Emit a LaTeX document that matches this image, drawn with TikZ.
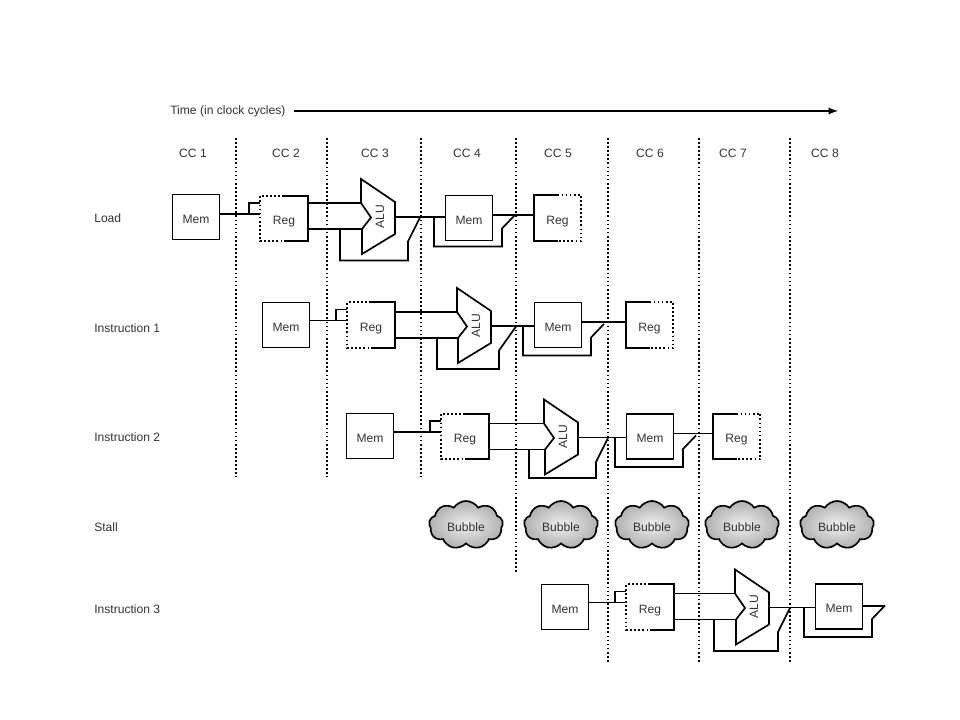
\documentclass[tikz,border=0pt]{standalone}
\usepackage{fontspec}
\setmainfont{Liberation Sans}
\usepackage{tikz}
\usetikzlibrary{arrows, shapes.symbols}

\tikzset{
  label/.style = {text = black!80, font = \fontsize{8.6}{10}\selectfont, inner sep = 0pt},
  box/.style   = {label, minimum width = 1.175cm, minimum height = 1.125cm, text height = 9pt, text depth = 0pt},
  wire/.style  = {line width = 1.2pt},
  tick/.style  = {line width = 1.2pt, dash pattern = on 1.2pt off 1.7pt},
  bubble/.style = {label, draw, line width = 1.2pt, cloud, cloud puffs = 9, cloud puff arc = 115,
    aspect = 1.55, minimum width = 1.85cm, minimum height = 1.2cm, text height = 9pt, text depth = 0pt,
    shade, inner color = gray!12, outer color = gray!62},
}

\begin{document}
\begin{tikzpicture}[>=latex, x = 0.025cm, y = -0.025cm]
    \useasboundingbox (0,0) rectangle (960,720);

    \node[label, anchor = west] (time) at (170,111.5) {Time (in clock cycles)};
    \coordinate (timeend) at (838,111);
    \draw[->, line width = 1.3pt] (294,111) -- (timeend);

    % clock cycle headings and separators
    \foreach \cc/\xc in {1/193, 2/286, 3/375, 4/467, 5/558, 6/650, 7/733, 8/825}
      \node[label] (cc\cc) at (\xc,153) {CC \cc};
    \foreach \xl/\yl in {236/477, 327/477, 421/477, 516/572, 608/662, 699/662, 790/662}
      \draw[tick] (\xl,138) -- (\xl,\yl);

    \foreach \row/\yrow/\name in {load/218.5/Load, one/328.5/Instruction 1, two/437.5/Instruction 2, stall/527.5/Stall, three/609.5/Instruction 3}
      \node[label, anchor = west] (name\row) at (94,\yrow) {\name};

    % one instruction: Mem, Reg, ALU, Mem
    \foreach \row/\xm/\ym/\xr/\yr/\xa/\ya/\xd/\yd/\xf/\xg/\xe/\yb in {
        load/196/217/284/218.5/361/217.5/469/218/340/408/420/260.5,
        one/286/325/371/325/457/326.5/558/325/437/499/516/369,
        two/370/436/465/436.5/544/438/650/436.5/529/596/608/478,
        three/565/607/650/607/735/608/839/606.5/714/778/790/651} {
      \node[box, draw, wire] (mem\row) at (\xm,\ym) {Mem};
      \node[box] (reg\row) at (\xr,\yr) {Reg};
      \draw[tick] (reg\row.north) -- (reg\row.north west) -- (reg\row.south west) -- (reg\row.south);
      \draw[wire] (reg\row.north) -- (reg\row.north east) -- (reg\row.south east) -- (reg\row.south);

      \coordinate (alu\row) at (\xa,\ya);
      \draw[wire] (alu\row) ++(0,-14.5) coordinate (aluin\row) -- ++(0,-24) -- ++(34,23)
        -- ++(0,15) coordinate (aluout\row) -- ++(0,17) -- ++(-33,20) -- ++(0,-25) coordinate (alub\row)
        -- ++(9,-11.5) -- (aluin\row);
      \node[label, rotate = 90] (alutext\row) at (\xa+19,\ya-1) {ALU};

      \node[box, draw, wire] (dmem\row) at (\xd,\yd) {Mem};

      % latch wires
      \coordinate (memout\row) at (\xm,\yr-4.5);
      \coordinate (latch\row) at (\xr-35,\yr-4.5);
      \draw[wire] (mem\row.east |- memout\row) -- (reg\row.west |- memout\row);
      \draw[wire] (latch\row) |- (reg\row.west |- 0,\yr-15.5);
      \draw[wire] (reg\row.east |- aluin\row) -- (aluin\row);
      \draw[wire] (reg\row.east |- alub\row) -- (alub\row);
      \draw[wire] (aluout\row) -- (dmem\row.west |- aluout\row);

      % bypass wires
      \draw[wire] (\xf,\ya+11.5) -- (\xf,\yb) -- (\xg,\yb) -- (\xg,\ya+24) -- (\xe,\ya);
      \draw[wire] (\xd-35,\ya) -- (\xd-35,\ya+29) -- (\xd+33,\ya+29) -- (\xd+33,\ya+11) -- (\xd+46,\ya-2.5);
    }

    % write back
    \foreach \row/\xw/\yw in {load/557.5/218, one/649.5/325, two/736.5/436.5} {
      \node[box] (wb\row) at (\xw,\yw) {Reg};
      \draw[wire] (wb\row.north) -- (wb\row.north west) -- (wb\row.south west) -- (wb\row.south);
      \draw[tick] (wb\row.north) -- (wb\row.north east) -- (wb\row.south east) -- (wb\row.south);
      \draw[wire] (dmem\row.east |- 0,\yw-3) -- (wb\row.west |- 0,\yw-3);
    }
    \coordinate (stub) at (884,606);
    \draw[wire] (dmemthree.east |- stub) -- (stub);

    % stalled cycles
    \foreach \xb [count = \i] in {466, 561, 652, 742, 837}
      \node[bubble] (bubble\i) at (\xb,525) {Bubble};
\end{tikzpicture}
\end{document}
